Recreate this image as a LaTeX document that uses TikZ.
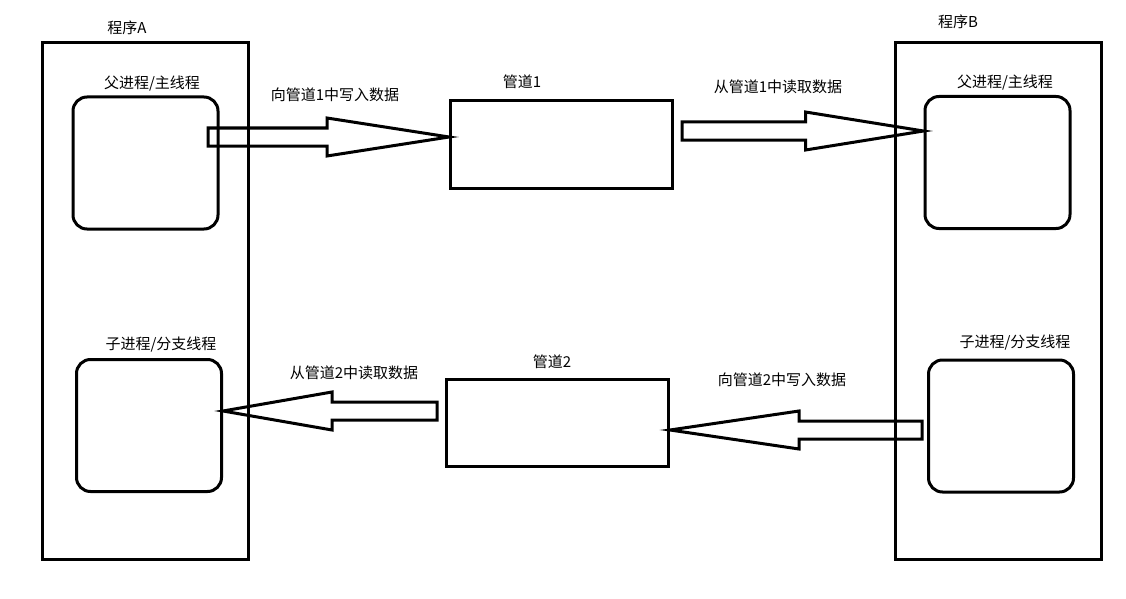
\documentclass[tikz,border=0pt]{standalone}
\usepackage{fontspec}
\setmainfont{Noto Sans CJK SC}
\usetikzlibrary{calc}

% hollow block arrow: tail, tip, signed head length
\newcommand{\blockarrow}[3]{%
  \draw[flow] let \p1=(#1), \p2=(#2) in
    (\x1,\y1+9pt) -- ({\x2-(#3)},\y1+9pt) -- ({\x2-(#3)},\y1+19pt) -- (\x2,\y2)
    -- ({\x2-(#3)},\y1-19pt) -- ({\x2-(#3)},\y1-9pt) -- (\x1,\y1-9pt) -- cycle;}

\begin{document}
\begin{tikzpicture}[x=1pt, y=-1pt,
    prog/.style={draw, line width=3pt, minimum width=206pt, minimum height=516pt, inner sep=0pt},
    proc/.style={draw, line width=3pt, rounded corners=14pt, minimum width=145pt, minimum height=132pt, inner sep=0pt},
    pipe/.style={draw, line width=3pt, minimum width=222pt, minimum height=87pt, inner sep=0pt},
    lbl/.style={font=\fontsize{15}{18}\selectfont, inner sep=0pt},
    flow/.style={draw, line width=3pt, line join=miter},
]
    \useasboundingbox (0,0) rectangle (1126,599);

    % Programs
    \node[prog] (progA) at (145,301) {};
    \node[prog] (progB) at (998.5,301) {};
    \node[lbl] (progAlbl) at (127,28) {程序A};
    \node[lbl] (progBlbl) at (958,22) {程序B};

    % Processes
    \node[proc] (parA) at (145.5,163) {};
    \node[proc] (chiA) at (149,425.5) {};
    \node[proc] (parB) at (997.5,162.5) {};
    \node[proc] (chiB) at (1001,426) {};
    \node[lbl] (parAlbl) at (152,84) {父进程/主线程};
    \node[lbl] (chiAlbl) at (161,345) {子进程/分支线程};
    \node[lbl] (parBlbl) at (1005,83) {父进程/主线程};
    \node[lbl] (chiBlbl) at (1015,343) {子进程/分支线程};

    % Pipes
    \node[pipe] (pipe1) at (561.5,144.5) {};
    \node[pipe] (pipe2) at (557.5,422.5) {};
    \node[lbl] (pipe1lbl) at (522,82) {管道1};
    \node[lbl] (pipe2lbl) at (552,362) {管道2};

    % Arrows
    \coordinate (a1s) at (208,137);
    \coordinate (a2s) at (682,131);
    \coordinate (a3s) at (437,411);
    \coordinate (a4s) at (922,430);
    \blockarrow{a1s}{pipe1.west |- a1s}{122pt}
    \blockarrow{a2s}{parB.west |- a2s}{118pt}
    \blockarrow{a3s}{chiA.east |- a3s}{-109pt}
    \blockarrow{a4s}{pipe2.east |- a4s}{-129pt}

    \node[lbl] (w1) at (335,95) {向管道1中写入数据};
    \node[lbl] (r1) at (778,87) {从管道1中读取数据};
    \node[lbl] (r2) at (354,373) {从管道2中读取数据};
    \node[lbl] (w2) at (782,380) {向管道2中写入数据};
\end{tikzpicture}
\end{document}
